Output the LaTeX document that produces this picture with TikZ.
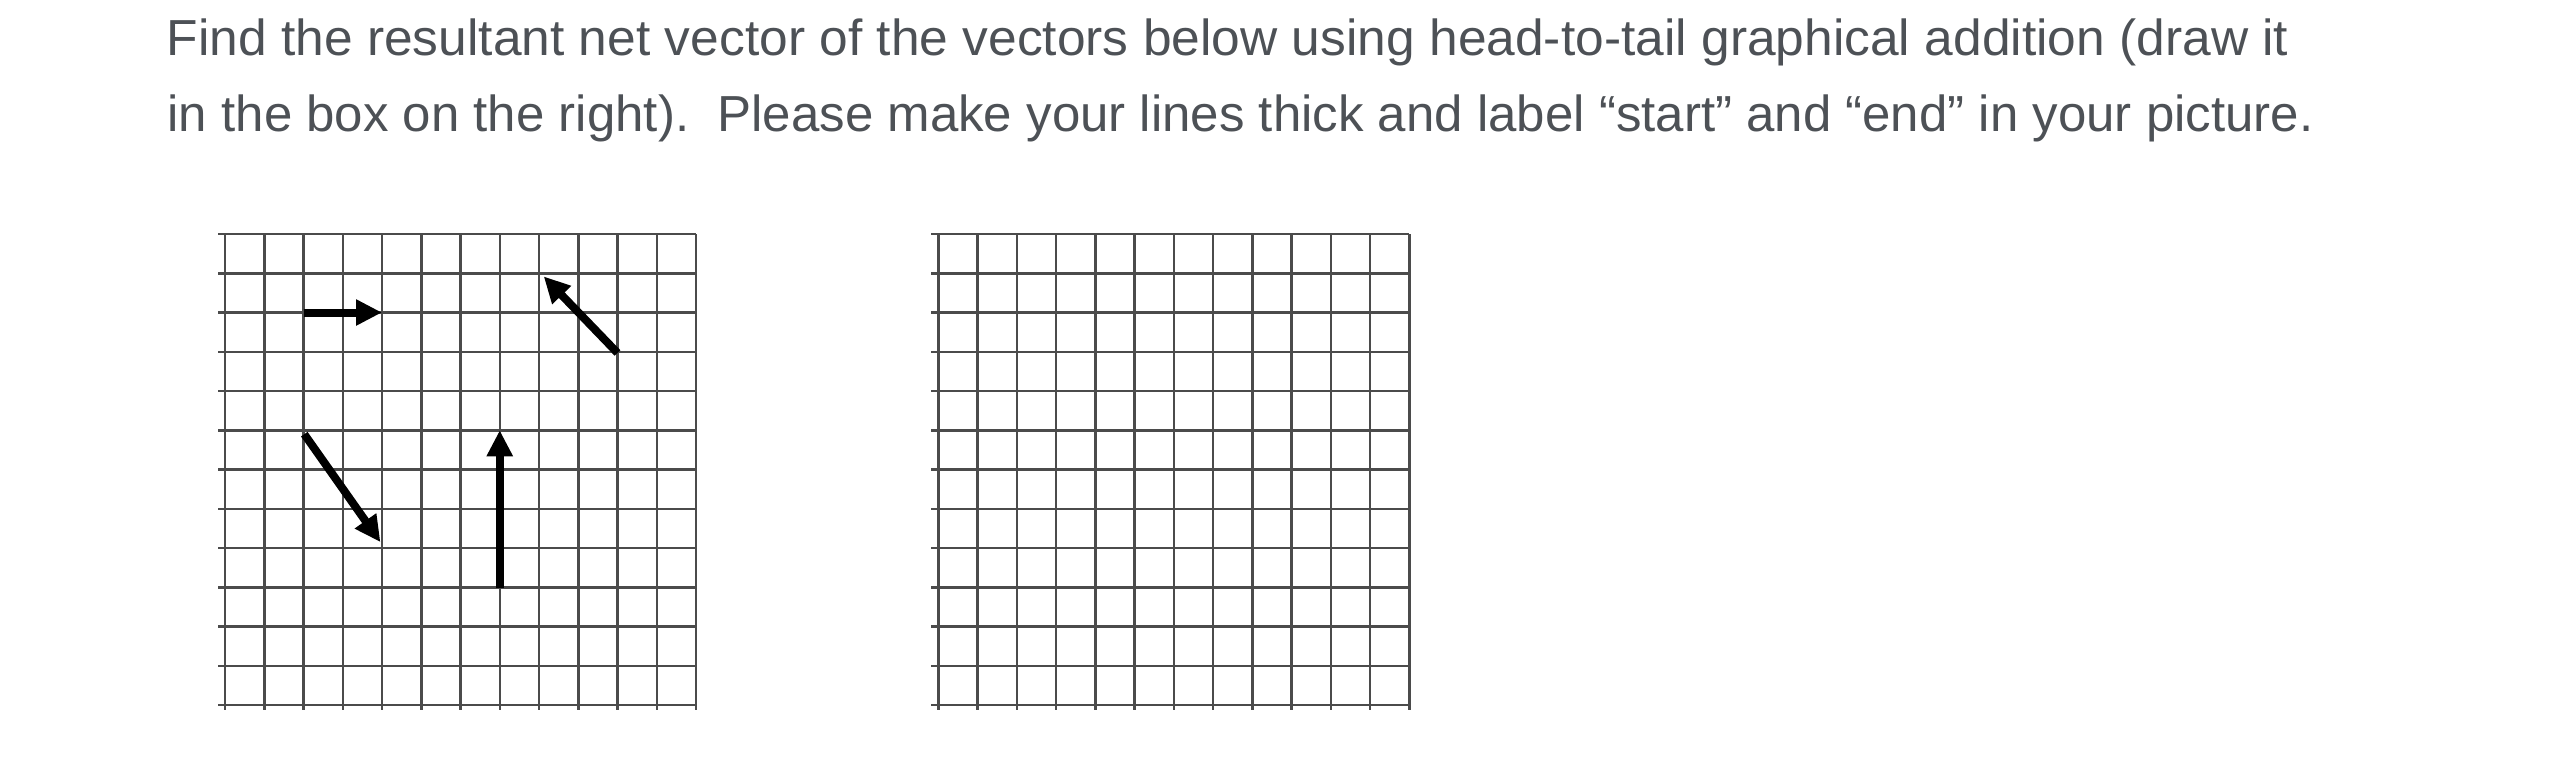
\documentclass[tikz,border=0pt]{standalone}
\usepackage{fontspec}
\setmainfont{Liberation Sans}
\usetikzlibrary{arrows.meta}
\definecolor{txtgray}{RGB}{77,81,86}
\definecolor{gridgray}{RGB}{75,75,75}
\newlength\fitw
\newcommand\fitline[2]{\settowidth\fitw{#2}\pgfmathsetmacro\fitr{#1/\fitw}\scalebox{\fitr}[1]{#2}}
\tikzset{
  gridline/.style={draw=gridgray, line width=0.75pt},
  vec/.style={line width=2.4pt, -{Triangle[length=7.8pt,width=7.4pt]}},
  qtext/.style={anchor=base west, inner sep=0pt, text=txtgray, font=\fontsize{15.2}{18}\selectfont}
}
\begin{document}
\begin{tikzpicture}[x=0.3pt,y=-0.3pt]
\useasboundingbox (0,0) rectangle (2570,762);
% question text
\node[qtext] (l1) at (166,55) {\fitline{636.6}{Find the resultant net vector of the vectors below using head-to-tail graphical addition (draw it}};
\node[qtext] (l2) at (167,131) {\fitline{643.8}{in the box on the right).\ \ Please make your lines thick and label “start” and “end” in your picture.}};
% grids
\foreach \gx in {225,938.3}{
  \foreach \i in {0,...,12}{
    \draw[gridline] ({\gx+\i*39.25},234) -- ({\gx+\i*39.25},710);
    \draw[gridline] ({\gx-7},{234+\i*39.25}) -- ({\gx+471},{234+\i*39.25});
  }
}
% vectors on the left grid (grid units: 39.25 px, origin 225,234)
\begin{scope}[shift={(225,234)}, x=11.775pt, y=-11.775pt]
  \coordinate (a1) at (2,2);      \coordinate (b1) at (4,2);
  \coordinate (a2) at (10,3.03);  \coordinate (b2) at (8.12,1.08);
  \coordinate (a3) at (2.02,5.1); \coordinate (b3) at (3.96,7.85);
  \coordinate (a4) at (7,9.02);   \coordinate (b4) at (7,5);
  \draw[vec] (a1) -- (b1);
  \draw[vec] (a2) -- (b2);
  \draw[vec] (a3) -- (b3);
  \draw[vec] (a4) -- (b4);
\end{scope}
\end{tikzpicture}
\end{document}
